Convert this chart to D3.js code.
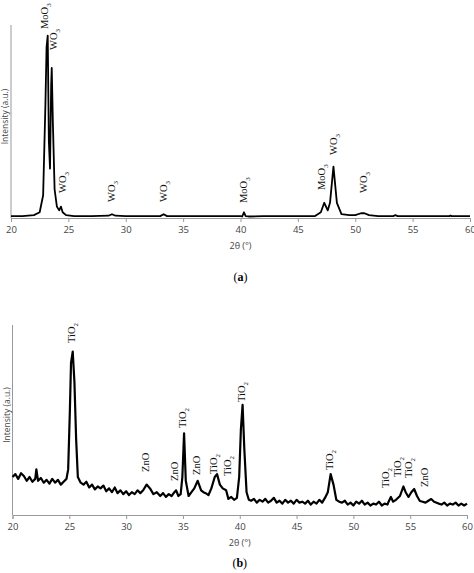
<!DOCTYPE html>
<html><head><meta charset="utf-8">
<script src="https://cdn.jsdelivr.net/npm/d3@7"></script>
<style>body{margin:0;background:#fff}</style>
</head><body>
<svg id="c" width="474" height="573"></svg>
<script>
// panel (a) pattern
const xa = [20,21,22,22.5,22.8,23.0,23.1,23.2,23.3,23.4,23.5,23.55,23.65,23.8,24.0,24.2,24.35,24.5,24.8,25.5,27,28.5,28.8,29.1,30,32,33,33.3,33.6,35,38,40,40.15,40.3,40.45,40.7,42,45,46.5,47.0,47.3,47.6,47.8,48.1,48.4,48.8,49.5,50.0,50.5,50.8,51.2,52,53.3,53.5,53.7,56,58.2,58.3,58.4,60];
const ya = [1,1,1.5,3,12,60,90,96,40,26,70,79,50,15,6,4,6,3,1.5,1,1,1.2,2,1.2,1,1,1,2,1,1,1,1,0.8,3,1,0.8,1,1,1,3,8,4,8,27,8,2,1.5,1.5,2.5,2.5,1.5,1,1,1.5,1,1,1,1.3,1,1];
// panel (b) pattern
const xb = [20,20.25,20.5,20.75,21,21.25,21.5,21.75,22,22.1,22.25,22.5,22.75,23,23.25,23.5,23.75,24,24.25,24.5,24.75,24.9,25.05,25.15,25.3,25.45,25.6,25.75,26,26.25,26.5,26.75,27,27.25,27.5,27.75,28,28.25,28.5,28.75,29,29.25,29.5,29.75,30,30.25,30.5,30.75,31,31.25,31.5,31.8,32.1,32.4,32.7,33,33.25,33.5,33.75,34,34.25,34.4,34.6,34.8,34.95,35.1,35.25,35.5,35.75,36,36.3,36.6,36.8,37,37.25,37.5,37.8,38,38.25,38.5,38.8,39,39.25,39.5,39.75,39.95,40.1,40.25,40.4,40.6,40.8,41,41.25,41.5,41.75,42,42.25,42.5,42.75,43,43.25,43.5,43.75,44,44.25,44.5,44.75,45,45.25,45.5,45.75,46,46.25,46.5,46.75,47,47.25,47.5,47.75,48,48.25,48.5,48.75,49,49.25,49.5,49.75,50,50.25,50.5,50.75,51,51.25,51.5,51.75,52,52.25,52.5,52.75,53,53.1,53.3,53.5,53.75,54.1,54.4,54.6,54.85,55.1,55.35,55.6,55.85,56.1,56.35,56.6,56.85,57.1,57.5,57.75,58,58.25,58.5,58.75,59,59.25,59.5,59.75,60];
const yb = [20,21.5,19,22,20.5,18,20,17.5,19,24,18,19.5,17,18.5,16.5,19,17,18.5,16,17.5,19,24,55,80,86,70,40,20,17,16,17.5,14.5,16,13.5,15,14,15.5,12.5,14,12,14.5,11.5,13,11,12.5,10.5,12,11,13,11.5,13,16,14,11,12,10,11.5,9.5,11,10,12,13,10,11,20,43,18,10,12,14,18,13,12,11.5,10.5,14,20,21.5,16,14,13,8.5,9.5,8,9,20,45,58,35,12,8,7.5,8.5,6.5,8,7,8.5,6.5,7.5,9,6.5,7.5,6,8,6.5,7.5,6,8,6.5,7,6,7.5,5.5,7,6,8,6.5,9,12,21.5,16,8,7,6.5,7.5,5.5,6.5,5,7,6,7.5,5.5,6.5,5,6,5.5,7,5,6,5.5,7,9.5,7,8,10,15,12,9.5,12,13.7,10,7.4,7,6.5,7.5,8.4,7,6,5.5,6.5,5,6,5.5,6.5,5,6,5,6];

const labelsA = [["MoO",3,23.05,29],["WO",3,23.85,50],["WO",3,24.6,193],["WO",3,28.9,202],["WO",3,33.4,202],["MoO",3,40.35,203],["MoO",3,47.2,190],["WO",3,48.25,155],["WO",3,50.85,193]];
const labelsB = [["TiO",2,25.3,343],["ZnO",null,31.8,472],["ZnO",null,34.35,481],["TiO",2,35.1,428],["ZnO",null,36.35,475],["TiO",2,37.8,474],["TiO",2,39.05,476],["TiO",2,40.3,402],["TiO",2,48.0,470],["TiO",2,53.0,488],["TiO",2,54.05,477],["TiO",2,55.0,478],["ZnO",null,56.4,487]];

const svg = d3.select("#c");

function panel(xs, ys, labels, left, right, top, bottom, tag, tagY, sw) {
    const x = d3.scaleLinear().domain([20, 60]).range([left, right]);
    const y = d3.scaleLinear().domain([0, 100]).range([bottom, bottom - 190]);
    const g = svg.append("g");
    g.append("line").attr("x1", left).attr("x2", left).attr("y1", top).attr("y2", bottom).attr("stroke", "#999");
    g.append("g").attr("transform", `translate(0,${bottom})`)
        .call(d3.axisBottom(x).tickValues(d3.range(20, 61, 5)).tickSize(4).tickFormat(d3.format("d")))
        .call(a => a.select(".domain").attr("stroke", "#999"))
        .call(a => a.selectAll("line").attr("stroke", "#999"))
        .call(a => a.selectAll("text").attr("fill", "#444").style("font", "9.5px 'Open Sans', sans-serif").attr("dy", "0.85em"));
    g.append("path").datum(xs.map((d, i) => [d, ys[i]]))
        .attr("d", d3.line().x(d => x(d[0])).y(d => y(d[1])))
        .attr("fill", "none").attr("stroke", "#000").attr("stroke-width", sw).attr("stroke-linejoin", "round");
    g.append("text").attr("x", (left + right) / 2).attr("y", bottom + 31).attr("text-anchor", "middle")
        .attr("fill", "#444").style("font", "9px 'Open Sans', sans-serif").text("2θ (°)");
    g.append("text").attr("transform", `translate(${left - 3},${(top + bottom) / 2 - 5}) rotate(-90)`).attr("text-anchor", "middle")
        .attr("fill", "#444").style("font", "8.5px 'Open Sans', sans-serif").text("Intensity (a.u.)");
    labels.forEach(l => {
        const t = g.append("text").attr("transform", `translate(${x(l[2])},${l[3]}) rotate(-90)`)
            .attr("dominant-baseline", "middle").style("font", "10.5px 'Liberation Serif', serif").attr("fill", "#111");
        t.append("tspan").text(l[0]);
        if (l[1]) t.append("tspan").attr("font-size", "7px").attr("dy", "3").text(l[1]);
    });
    const tt = g.append("text").attr("x", (left + right) / 2).attr("y", tagY).attr("text-anchor", "middle")
        .style("font", "12px 'Liberation Serif', serif");
    tt.append("tspan").text("(");
    tt.append("tspan").attr("font-weight", "bold").text(tag);
    tt.append("tspan").text(")");
}

panel(xa, ya, labelsA, 11, 470, 25, 218, "a", 281, 1.8);
panel(xb, yb, labelsB, 12.5, 467, 325, 515, "b", 567, 2.2);
</script>
</body></html>
